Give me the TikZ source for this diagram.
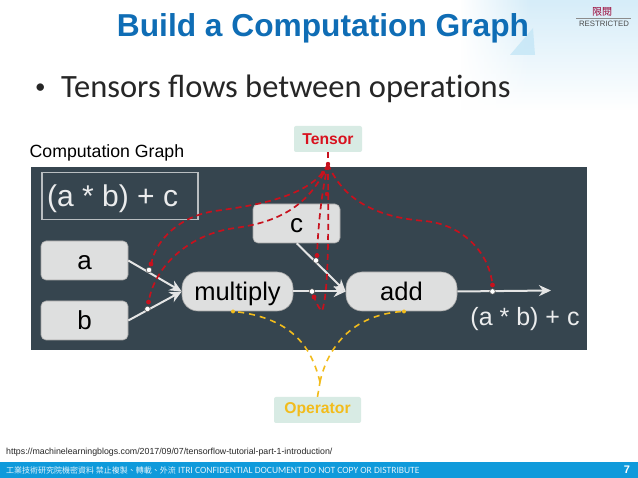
\documentclass[tikz,border=0pt]{standalone}
\usepackage{fontspec}
\setmainfont{Liberation Sans}
\newfontfamily\cjk{Noto Sans CJK TC}
\newfontfamily\carl{Carlito}
\usetikzlibrary{arrows.meta,calc,fadings}
\definecolor{panel}{HTML}{36454F}
\definecolor{boxg}{HTML}{DEDFDF}
\definecolor{titleb}{HTML}{0F6DB5}
\definecolor{tagbg}{HTML}{D8EBE4}
\definecolor{redd}{HTML}{D8121F}
\definecolor{yell}{HTML}{F2BC1C}
\definecolor{barb}{HTML}{0F9ADB}
\definecolor{wedge}{HTML}{C4E6F6}
\tikzset{
 x=1pt,y=-1pt,
 opbox/.style={draw=gray!70,line width=.6pt,fill=boxg,rounded corners=5pt,minimum width=87pt,minimum height=39pt,inner sep=0pt,text=black,text height=20pt,text depth=2pt,font=\fontsize{26}{26}\selectfont},
 oppill/.style={draw=gray!70,line width=.6pt,fill=boxg,rounded corners=16pt,minimum width=111pt,minimum height=39pt,inner sep=0pt,text=black,text height=20pt,text depth=2pt,font=\fontsize{25.5}{26}\selectfont},
 tag/.style={fill=tagbg,rounded corners=2pt,inner sep=0pt,font=\bfseries\fontsize{15.7}{16}\selectfont},
 dot/.style={circle,draw=black!70,line width=.5pt,fill=white,minimum size=5.5pt,inner sep=0pt},
 wire/.style={draw=white!90!black,line width=2pt},
 flow/.style={wire,-{Stealth[length=12pt,width=11pt]}},
 tensorline/.style={draw=redd!92!black,line width=1.7pt,dash pattern=on 6pt off 4pt},
 opline/.style={draw=yell,line width=1.6pt,dash pattern=on 6pt off 5pt},
 lbl/.style={inner sep=0pt,anchor=west},
}
\begin{document}
\begin{tikzpicture}
\useasboundingbox (0,0) rectangle (638,478);
\fill[white] (0,0) rectangle (638,478);
% watermark
\fill[wedge!70,path fading=south] (460,0) rectangle (638,110);
\fill[white,path fading=east] (460,0) rectangle (530,110);
\fill[wedge,opacity=.8] (533,28) -- (535,55) -- (510,55) -- cycle;
\node[lbl,anchor=center,text=titleb,font=\bfseries\fontsize{31.7}{32}\selectfont] (title) at (323,28) {Build a Computation Graph};
\node[lbl,anchor=center,font=\fontsize{10}{10}\selectfont,text=purple!80!black] (res1) at (602,12) {\cjk 限閱};
\node[lbl,anchor=center,font=\fontsize{7.8}{8}\selectfont,text=black!70] (res2) at (604,24) {RESTRICTED};
\draw[black!45,line width=.4pt] (576,18.5) -- (631,18.5);
\node[lbl,font=\carl\fontsize{21}{21}\selectfont,text=black!85] (bull) at (35,89) {•};
\node[lbl,font=\carl\fontsize{32.5}{33}\selectfont,text=black!85] (bul) at (61,88.5) {Tensors flows between operat\kern0pt ions};
\node[lbl,font=\fontsize{17.7}{18}\selectfont] (cg) at (29.5,152.5) {Computation Graph};
% panel
\node[fill=panel,minimum width=556pt,minimum height=183pt,inner sep=0pt] (panel) at (309,258.5) {};
\node[draw=white!65!panel,line width=1.5pt,minimum width=156pt,minimum height=47pt,inner sep=0pt,anchor=west] (expr) at (41,196) {};
\node[lbl,text=white!90!panel,font=\fontsize{30}{30}\selectfont] (exprt) at (47,199) {(a * b) + c};
\node[opbox] (a) at (84.5,260.5) {a};
\node[opbox] (b) at (84.5,320.5) {b};
\node[opbox] (c) at (296.5,223.5) {c};
\node[oppill] (mul) at (237.5,291.5) {multiply};
\node[oppill] (add) at (401.5,291.5) {add};
\coordinate (out) at (551,290.5);
\node[lbl,anchor=center,text=white!90!panel,font=\fontsize{25}{25}\selectfont] (res) at (525,319) {(a * b) + c};
\draw[flow] (a.east) -- (mul.west);
\draw[flow] (b.east) -- (mul.west);
\draw[flow] ($(c.south west)+(44,0)$) -- (add.west);
\draw[flow] (mul.east) -- (add.west);
\draw[flow] (add.east) -- (out);
\node[dot] (da) at (149,270) {};
\node[dot] (db) at (147.5,309) {};
\node[dot] (dm) at (312,291.5) {};
\node[dot] (dc) at (316,260.5) {};
\node[dot] (dadd) at (492.5,291.5) {};
% tags
\node[tag,text=redd,minimum width=68pt,minimum height=26pt] (tensor) at (328,139) {Tensor};
\node[tag,text=yell,minimum width=87pt,minimum height=26pt] (oper) at (317.5,410) {Operator};
\coordinate (hub) at (328,164);
\coordinate (ohub) at (320,382);
% red
\draw[tensorline] (tensor.south) -- (hub);
\draw[tensorline] (hub) .. controls (312,198) and (250,206) .. (215,211) .. controls (180,216) and (155,240) .. ($(da)+(2,-5)$);
\draw[tensorline] (hub) .. controls (310,205) and (280,222) .. (235,228) .. controls (190,234) and (155,265) .. ($(db)+(1,-7)$);
\draw[tensorline] (hub) .. controls (322,190) and (318,225) .. ($(dc)+(1,-4)$);
\draw[tensorline] (hub) .. controls (328,200) and (330,290) .. (322,311) .. controls (320,310) and (316,303) .. ($(dm)+(2,5)$);
\draw[tensorline] (hub) .. controls (345,205) and (385,218) .. (425,221) .. controls (465,225) and (490,255) .. ($(dadd)+(0,-6)$);
\fill[redd!92!black] ($(da)+(2,-6)$) circle (2.4pt) ($(db)+(1,-7)$) circle (2.4pt) ($(dc)+(1,-5)$) circle (2.4pt) ($(dm)+(2,5.5)$) circle (2.4pt) ($(dadd)+(0,-6.5)$) circle (2.4pt) (hub) circle (2.2pt) (323,173) circle (2.2pt) (327,194) circle (2.2pt);
% yellow
\draw[opline] (oper.north) -- (ohub);
\draw[opline] (ohub) .. controls (312,350) and (295,318) .. (mul.south -| 233,0);
\draw[opline] (ohub) .. controls (327,350) and (350,314) .. (add.south -| 405,0);
\fill[yell] (233,311.5) circle (2pt) (404,311.5) circle (2pt);
% footer
\node[lbl,font=\fontsize{8.8}{9}\selectfont,text=black!85] (url) at (6,452) {https://machinelearningblogs.com/2017/09/07/tensorflow-tutorial-part-1-introduction/};
\fill[barb] (0,462) rectangle (638,478);
\node[lbl,text=white!88!barb,font=\cjk\fontsize{8}{9}\selectfont] (foot) at (6,470) {工業技術研究院機密資料 禁止複製、轉載、外流};
\node[lbl,text=white!88!barb,font=\carl\fontsize{9.55}{10}\selectfont] (foot2) at (178,470) {ITRI CONFIDENTIAL DOCUMENT DO NOT COPY OR DISTRIBUTE};
\node[lbl,anchor=center,text=white,font=\bfseries\fontsize{11}{11}\selectfont] (pg) at (627,470) {7};
\end{tikzpicture}
\end{document}
